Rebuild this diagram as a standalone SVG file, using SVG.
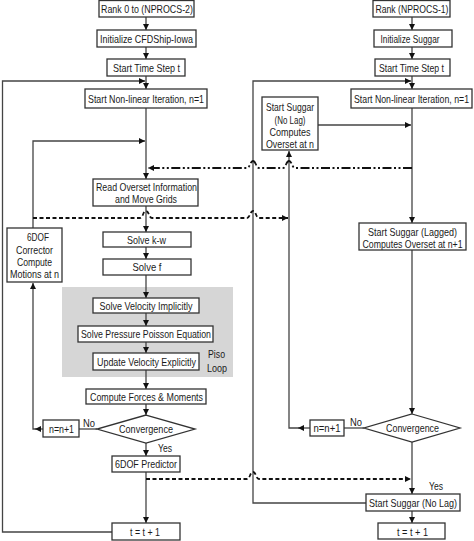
<svg xmlns="http://www.w3.org/2000/svg" width="474" height="541" viewBox="0 0 474 541">
<defs>
<style>
.box{fill:#fff;stroke:#333;stroke-width:1.3}
.t{font-family:"Liberation Sans",Arial,sans-serif;font-size:11.5px;fill:#1a1a1a;text-anchor:middle}
.ln{fill:none;stroke:#444;stroke-width:1.3}
.dash{fill:none;stroke:#111;stroke-width:1.8;stroke-dasharray:4 2.5}
.dd{fill:none;stroke:#111;stroke-width:1.8;stroke-dasharray:9 2.5 2 2.5 2 2.5}
</style>
<marker id="ah" markerUnits="userSpaceOnUse" markerWidth="7" markerHeight="6" refX="6" refY="3" orient="auto">
<path d="M0,0 L6,3 L0,6 z" fill="#111"/>
</marker>
</defs>
<rect x="62" y="287" width="171" height="90" fill="#d6d6d6"/>
<g id="connectors">
<path class="ln" d="M146,17 V30" marker-end="url(#ah)"/>
<path class="ln" d="M146,47 V59" marker-end="url(#ah)"/>
<path class="ln" d="M146,76 V89" marker-end="url(#ah)"/>
<path class="ln" d="M112,532 H2.5 V81 H145" marker-end="url(#ah)"/>
<path class="ln" d="M146,108 V179" marker-end="url(#ah)"/>
<path class="ln" d="M33,228 V141 H145" marker-end="url(#ah)"/>
<path class="ln" d="M146,206 V232" marker-end="url(#ah)"/>
<path class="ln" d="M146,247 V259" marker-end="url(#ah)"/>
<path class="ln" d="M146,275 V298" marker-end="url(#ah)"/>
<path class="ln" d="M146,313 V326" marker-end="url(#ah)"/>
<path class="ln" d="M146,342 V353" marker-end="url(#ah)"/>
<path class="ln" d="M146,370 V389" marker-end="url(#ah)"/>
<path class="ln" d="M146,404 V415" marker-end="url(#ah)"/>
<path class="ln" d="M97,429 H79"/>
<path class="ln" d="M43,429 H35" marker-end="url(#ah)"/>
<path class="ln" d="M36,429 H33 V283" marker-end="url(#ah)"/>
<path class="ln" d="M146,443 V456" marker-end="url(#ah)"/>
<path class="ln" d="M146,472 V523" marker-end="url(#ah)"/>
<path class="ln" d="M412,17 V30" marker-end="url(#ah)"/>
<path class="ln" d="M412,47 V59" marker-end="url(#ah)"/>
<path class="ln" d="M412,76 V89" marker-end="url(#ah)"/>
<path class="ln" d="M366,503 H253 V81 H411" marker-end="url(#ah)"/>
<path class="ln" d="M412,108 V223" marker-end="url(#ah)"/>
<path class="ln" d="M318,125 H411" marker-end="url(#ah)"/>
<path class="ln" d="M412,250 V414" marker-end="url(#ah)"/>
<path class="ln" d="M364,428 H344"/>
<path class="ln" d="M310,428 H298" marker-end="url(#ah)"/>
<path class="ln" d="M299,428 H289 V151" marker-end="url(#ah)"/>
<path class="ln" d="M412,442 V494" marker-end="url(#ah)"/>
<path class="ln" d="M412,511 V523" marker-end="url(#ah)"/>
<path class="dd" d="M412,168 H295 C292,168 292,161 289,161 C286,161 286,168 283,168 H259 C256,168 256,161 253,161 C250,161 250,168 247,168 H148" marker-end="url(#ah)"/>
<path class="dash" d="M33,218 H140 C143,218 143,211 146,211 C149,211 149,218 152,218 H247 C250,218 250,211 253,211 C256,211 256,218 259,218 H288" marker-end="url(#ah)"/>
<path class="dash" d="M146,479 H247 C250,479 250,472 253,472 C256,472 256,479 259,479 H411" marker-end="url(#ah)"/>
</g>
<g id="rank0"><rect class="box" x="99" y="0.5" width="95" height="16.5"/><text class="t" x="147" y="13" textLength="92" lengthAdjust="spacingAndGlyphs">Rank 0 to (NPROCS-2)</text></g>
<g id="initCFD"><rect class="box" x="97" y="30" width="99" height="17"/><text class="t" x="146.5" y="42.5" textLength="93" lengthAdjust="spacingAndGlyphs">Initialize CFDShip-Iowa</text></g>
<g id="startTL"><rect class="box" x="107" y="59" width="78" height="17"/><text class="t" x="146.5" y="71.5" textLength="67" lengthAdjust="spacingAndGlyphs">Start Time Step t</text></g>
<g id="startNLL"><rect class="box" x="85" y="89" width="122" height="19"/><text class="t" x="146" y="102.5" textLength="116" lengthAdjust="spacingAndGlyphs">Start Non-linear Iteration, n=1</text></g>
<g id="readOverset"><rect class="box" x="93" y="179" width="105" height="27"/><text class="t" x="146.5" y="191" textLength="101" lengthAdjust="spacingAndGlyphs">Read Overset Information</text><text class="t" x="146" y="203" textLength="62" lengthAdjust="spacingAndGlyphs">and Move Grids</text></g>
<g id="solveKW"><rect class="box" x="103" y="232" width="88" height="15"/><text class="t" x="146.5" y="243.5" textLength="39" lengthAdjust="spacingAndGlyphs">Solve k-w</text></g>
<g id="solveF"><rect class="box" x="103" y="259" width="88" height="16"/><text class="t" x="147" y="271" textLength="29" lengthAdjust="spacingAndGlyphs">Solve f</text></g>
<g id="solveVel"><rect class="box" x="93" y="298" width="106" height="15"/><text class="t" x="146" y="309.5" textLength="93" lengthAdjust="spacingAndGlyphs">Solve Velocity Implicitly</text></g>
<g id="solvePress"><rect class="box" x="78" y="326" width="135" height="16"/><text class="t" x="146" y="338" textLength="130" lengthAdjust="spacingAndGlyphs">Solve Pressure Poisson Equation</text></g>
<g id="updateVel"><rect class="box" x="93" y="353" width="106" height="17"/><text class="t" x="146.5" y="365.5" textLength="99" lengthAdjust="spacingAndGlyphs">Update Velocity Explicitly</text></g>
<g id="piso"><text class="t" x="216.5" y="358" textLength="17" lengthAdjust="spacingAndGlyphs">Piso</text><text class="t" x="217" y="371.5" textLength="20" lengthAdjust="spacingAndGlyphs">Loop</text></g>
<g id="forces"><rect class="box" x="86" y="389" width="120" height="15"/><text class="t" x="146.5" y="400.5" textLength="113" lengthAdjust="spacingAndGlyphs">Compute Forces &amp; Moments</text></g>
<g id="convL"><polygon class="box" points="146,415 195,429 146,443 97,429"/><text class="t" x="146" y="433" textLength="54" lengthAdjust="spacingAndGlyphs">Convergence</text></g>
<g id="nn1L"><rect class="box" x="43" y="420" width="36" height="17"/><text class="t" x="61.5" y="433" textLength="25" lengthAdjust="spacingAndGlyphs">n=n+1</text></g>
<text class="t" x="89" y="427" textLength="12" lengthAdjust="spacingAndGlyphs">No</text>
<text class="t" x="165" y="452" textLength="14" lengthAdjust="spacingAndGlyphs">Yes</text>
<g id="sixdofPred"><rect class="box" x="112" y="456" width="68" height="16"/><text class="t" x="146" y="468" textLength="62" lengthAdjust="spacingAndGlyphs">6DOF Predictor</text></g>
<g id="ttL"><rect class="box" x="112" y="523" width="68" height="17"/><text class="t" x="145" y="536" textLength="30" lengthAdjust="spacingAndGlyphs">t = t + 1</text></g>
<g id="sixdofCorr"><rect class="box" x="7" y="228" width="55" height="54"/><text class="t" x="38" y="241" textLength="22" lengthAdjust="spacingAndGlyphs">6DOF</text><text class="t" x="34.5" y="254" textLength="37" lengthAdjust="spacingAndGlyphs">Corrector</text><text class="t" x="34.5" y="266" textLength="35" lengthAdjust="spacingAndGlyphs">Compute</text><text class="t" x="34.5" y="278" textLength="49" lengthAdjust="spacingAndGlyphs">Motions at n</text></g>
<g id="rankN"><rect class="box" x="373" y="0.5" width="77" height="16.5"/><text class="t" x="412" y="13" textLength="73" lengthAdjust="spacingAndGlyphs">Rank (NPROCS-1)</text></g>
<g id="initSuggar"><rect class="box" x="374" y="30" width="78" height="17"/><text class="t" x="410" y="42.5" textLength="59" lengthAdjust="spacingAndGlyphs">Initialize Suggar</text></g>
<g id="startTR"><rect class="box" x="375" y="59" width="75" height="17"/><text class="t" x="411.5" y="71.5" textLength="65" lengthAdjust="spacingAndGlyphs">Start Time Step t</text></g>
<g id="startNLR"><rect class="box" x="351" y="89" width="121" height="19"/><text class="t" x="411.5" y="102.5" textLength="115" lengthAdjust="spacingAndGlyphs">Start Non-linear Iteration, n=1</text></g>
<g id="suggarNoLagN"><rect class="box" x="262" y="97" width="56" height="53"/><text class="t" x="290" y="111" textLength="48" lengthAdjust="spacingAndGlyphs">Start Suggar</text><text class="t" x="290" y="123.5" textLength="31" lengthAdjust="spacingAndGlyphs">(No Lag)</text><text class="t" x="290" y="135.5" textLength="41" lengthAdjust="spacingAndGlyphs">Computes</text><text class="t" x="290" y="147.5" textLength="48" lengthAdjust="spacingAndGlyphs">Overset at n</text></g>
<g id="suggarLagged"><rect class="box" x="359" y="223" width="107" height="27"/><text class="t" x="412.5" y="236" textLength="89" lengthAdjust="spacingAndGlyphs">Start Suggar (Lagged)</text><text class="t" x="412.5" y="248" textLength="100" lengthAdjust="spacingAndGlyphs">Computes Overset at n+1</text></g>
<g id="convR"><polygon class="box" points="412,414 460,428 412,442 364,428"/><text class="t" x="412.5" y="432" textLength="53" lengthAdjust="spacingAndGlyphs">Convergence</text></g>
<g id="nn1R"><rect class="box" x="310" y="420" width="34" height="16"/><text class="t" x="327" y="432" textLength="27" lengthAdjust="spacingAndGlyphs">n=n+1</text></g>
<text class="t" x="356" y="426" textLength="12" lengthAdjust="spacingAndGlyphs">No</text>
<text class="t" x="436" y="490" textLength="14" lengthAdjust="spacingAndGlyphs">Yes</text>
<g id="suggarNoLag"><rect class="box" x="366" y="494" width="94" height="17"/><text class="t" x="413" y="506.5" textLength="88" lengthAdjust="spacingAndGlyphs">Start Suggar (No Lag)</text></g>
<g id="ttR"><rect class="box" x="378" y="523" width="67" height="16"/><text class="t" x="412.5" y="535.5" textLength="31" lengthAdjust="spacingAndGlyphs">t = t + 1</text></g>
</svg>
